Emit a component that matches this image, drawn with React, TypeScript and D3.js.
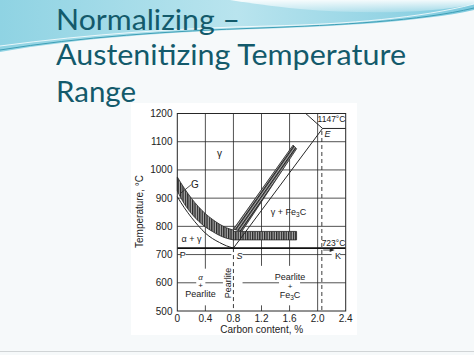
import React from "react";
import * as d3 from "d3";

// ---- data ----
const xTickValues = [0, 0.4, 0.8, 1.2, 1.6, 2.0, 2.4];
const xTickLabels = ["0", "0.4", "0.8", "1.2", "1.6", "2.0", "2.4"];
const yTickValues = [500, 600, 700, 800, 900, 1000, 1100, 1200];
const yTickLabels = ["500", "600", "700", "800", "900", "1000", "1100", "1200"];

// A3 line (G -> S)
const a3Carbon = [0, 0.1, 0.2, 0.3, 0.4, 0.5, 0.6, 0.7, 0.8];
const a3Temp = [905, 866, 832, 802, 776, 757, 743, 731, 723];

// normalizing band, hypoeutectoid
const bandCarbon = [0, 0.1, 0.2, 0.3, 0.4, 0.5, 0.6, 0.7, 0.8];
const bandTop = [975, 935, 900, 870, 845, 825, 808, 795, 787];
const bandBottom = [925, 880, 846, 819, 798, 782, 768, 758, 752];

// normalizing band along Acm (hypereutectoid)
const acmBandCarbon = [0.8, 1.65, 1.7, 0.92];
const acmBandTemp = [790, 1088, 1075, 782];

// normalizing band, horizontal (hypereutectoid)
const flatBandCarbon = [0.8, 1.7];
const flatBandTemp = [752, 782];

// Acm line S -> E, liquidus, eutectic
const acmCarbon = [0.8, 2.07];
const acmTemp = [723, 1147];
const liquidusCarbon = [1.83, 2.07];
const liquidusTemp = [1200, 1147];
const eutecticCarbon = [2.07, 2.4];
const eutecticTemp = [1147, 1147];
const a1Temp = 723;
const eutectoidC = 0.8;
const maxSolubilityC = 2.06;

const W = 474;
const H = 355;

export default function App() {
  const x = d3.scaleLinear().domain([0, 2.4]).range([177.3, 345.7]);
  const y = d3.scaleLinear().domain([500, 1200]).range([311, 113.5]);
  const line = d3
    .line<[number, number]>()
    .x((d) => x(d[0]))
    .y((d) => y(d[1]));
  const curve = d3
    .line<[number, number]>()
    .x((d) => x(d[0]))
    .y((d) => y(d[1]))
    .curve(d3.curveMonotoneX);

  const a3Pts = a3Carbon.map((c, i) => [c, a3Temp[i]] as [number, number]);
  const topPts = bandCarbon.map((c, i) => [c, bandTop[i]] as [number, number]);
  const botPts = bandCarbon.map((c, i) => [c, bandBottom[i]] as [number, number]);
  const botRev = curve(botPts.slice().reverse());
  const hypoPath = curve(topPts) + "L" + botRev!.slice(1) + "Z";

  const acmBandPts = acmBandCarbon.map((c, i) => [c, acmBandTemp[i]] as [number, number]);
  const flatBand = [
    [flatBandCarbon[0], flatBandTemp[0]],
    [flatBandCarbon[1], flatBandTemp[0]],
    [flatBandCarbon[1], flatBandTemp[1]],
    [flatBandCarbon[0], flatBandTemp[1]],
  ] as [number, number][];

  const ink = "#262626";
  const font = "'Liberation Sans', Arial, sans-serif";

  // grid lines in upper region (above A1)
  const upperV = xTickValues.slice(1, -1);
  const upperH = [800, 900, 1000, 1100];
  // broken grid segments below A1 (carbon ranges / temperature ranges)
  const h700Segments = [[0, 0.05], [0.12, 0.77], [0.93, 2.2], [2.32, 2.4]];
  const h600Segments = [[0, 0.27], [0.4, 0.65], [0.93, 1.45], [1.75, 2.4]];
  const lowerVLines = [0.4, 1.2, 1.6];
  const lowerVTop = [723, 723, 723];
  const lowerVBottom = [650, 660, 660];

  return (
    <svg
      width={W}
      height={H}
      viewBox={`0 0 ${W} ${H}`}
      style={{ position: "fixed", left: 0, top: 0 }}
    >
      <defs>
        <linearGradient id="wave" x1="0" y1="0" x2="1" y2="0">
          <stop offset="0" stopColor="#8fd3e3" />
          <stop offset="0.5" stopColor="#b9e4ee" />
          <stop offset="1" stopColor="#7fcbdf" />
        </linearGradient>
        <linearGradient id="wave2" x1="0" y1="0" x2="0" y2="1">
          <stop offset="0" stopColor="#ffffff" stopOpacity="0.9" />
          <stop offset="1" stopColor="#ffffff" stopOpacity="0.2" />
        </linearGradient>
        <pattern id="vhatch" patternUnits="userSpaceOnUse" width="2.4" height="4">
          <rect width="2.4" height="4" fill="#b0b0b0" />
          <rect x="0" width="1.3" height="4" fill="#262626" />
        </pattern>
        <pattern
          id="dhatch"
          patternUnits="userSpaceOnUse"
          width="2.4"
          height="4"
          patternTransform="rotate(35)"
        >
          <rect width="2.4" height="4" fill="#b0b0b0" />
          <rect x="0" width="1.3" height="4" fill="#262626" />
        </pattern>
      </defs>

      {/* slide background */}
      <rect width={W} height={H} fill="#f6f9fa" />
      <path
        d="M0,0 H474 V10 C420,22 340,26 260,29 C170,32 80,38 0,52 Z"
        fill="url(#wave)"
      />
      <path
        d="M230,0 H474 V4 C430,14 360,14 300,9 C270,6 250,3 230,0 Z"
        fill="url(#wave2)"
      />
      <path
        d="M0,50 C80,37 170,31 260,28 C340,25 420,21 474,8"
        fill="none"
        stroke="#3e9fb6"
        strokeWidth={1}
      />
      <path
        d="M0,46 C90,34 180,28 270,26 C350,24 420,18 474,4"
        fill="none"
        stroke="#ffffff"
        strokeWidth={1}
        opacity={0.8}
      />
      <line x1={0} y1={351.5} x2={W} y2={351.5} stroke="#d0d4d6" strokeWidth={1} />

      {/* title */}
      <g fill="#135a6b" fontFamily="Lato, 'Open Sans', sans-serif" fontSize={29}>
        <text x={56} y={29.5} textLength={184} lengthAdjust="spacingAndGlyphs">
          Normalizing –
        </text>
        <text x={56} y={64.5} textLength={350} lengthAdjust="spacingAndGlyphs">
          Austenitizing Temperature
        </text>
        <text x={56} y={101.5} textLength={80} lengthAdjust="spacingAndGlyphs">
          Range
        </text>
      </g>

      {/* chart image background */}
      <rect x={131} y={103} width={226} height={232} fill="#ffffff" />

      {/* grid */}
      <g stroke={ink} strokeWidth={0.8}>
        {upperV.map((v) => (
          <line key={"uv" + v} x1={x(v)} x2={x(v)} y1={y(1200)} y2={y(a1Temp)} />
        ))}
        {upperH.map((t) => (
          <line key={"uh" + t} x1={x(0)} x2={x(2.4)} y1={y(t)} y2={y(t)} />
        ))}
        {h700Segments.map((s, i) => (
          <line key={"h7" + i} x1={x(s[0])} x2={x(s[1])} y1={y(700)} y2={y(700)} />
        ))}
        {h600Segments.map((s, i) => (
          <line key={"h6" + i} x1={x(s[0])} x2={x(s[1])} y1={y(600)} y2={y(600)} />
        ))}
        {lowerVLines.map((v, i) => (
          <g key={"lv" + v}>
            <line x1={x(v)} x2={x(v)} y1={y(lowerVTop[i])} y2={y(lowerVBottom[i])} />
            <line x1={x(v)} x2={x(v)} y1={y(520)} y2={y(500)} />
          </g>
        ))}
        <line x1={x(2.0)} x2={x(2.0)} y1={y(a1Temp)} y2={y(500)} />
      </g>

      {/* dashed verticals */}
      <g stroke={ink} strokeWidth={0.9} strokeDasharray="4,3">
        <line x1={x(eutectoidC)} x2={x(eutectoidC)} y1={y(a1Temp)} y2={y(500)} />
        <line x1={x(maxSolubilityC)} x2={x(maxSolubilityC)} y1={y(1138)} y2={y(500)} />
      </g>

      {/* bands */}
      <path d={hypoPath} fill="url(#vhatch)" stroke={ink} strokeWidth={0.8} />
      <path d={line(flatBand)! + "Z"} fill="url(#vhatch)" stroke={ink} strokeWidth={0.8} />
      <path d={line(acmBandPts)! + "Z"} fill="url(#dhatch)" stroke={ink} strokeWidth={0.8} />

      {/* phase lines */}
      <g fill="none" stroke={ink} strokeWidth={1}>
        <path d={curve(a3Pts)!} />
        <path d={line(acmCarbon.map((c, i) => [c, acmTemp[i]] as [number, number]))!} />
        <path d={line(liquidusCarbon.map((c, i) => [c, liquidusTemp[i]] as [number, number]))!} />
        <path d={line(eutecticCarbon.map((c, i) => [c, eutecticTemp[i]] as [number, number]))!} />
        <line x1={x(0.05)} y1={y(918)} x2={x(0.2)} y2={y(948)} strokeWidth={0.8} />
      </g>
      <line x1={x(0)} x2={x(2.4)} y1={y(a1Temp)} y2={y(a1Temp)} stroke="#111" strokeWidth={1.8} />

      {/* arrow near K */}
      <line x1={x(2.08)} x2={x(2.2)} y1={y(716)} y2={y(716)} stroke={ink} strokeWidth={0.8} />
      <path d={`M${x(2.2) + 3},${y(716)} l-5,-2 l0,4 Z`} fill={ink} />

      {/* frame */}
      <rect
        x={x(0)}
        y={y(1200)}
        width={x(2.4) - x(0)}
        height={y(500) - y(1200)}
        fill="none"
        stroke={ink}
        strokeWidth={1}
      />

      {/* tick labels */}
      <g fontFamily={font} fontSize={10} fill="#222">
        {yTickValues.map((t, i) => (
          <text key={"yt" + t} x={172.5} y={y(t) + 3.5} textAnchor="end">
            {yTickLabels[i]}
          </text>
        ))}
        {xTickValues.map((t, i) => (
          <text key={"xt" + t} x={x(t)} y={322} textAnchor="middle">
            {xTickLabels[i]}
          </text>
        ))}
        <text x={261.7} y={333} textAnchor="middle">
          Carbon content, %
        </text>
        <text transform={`translate(143,211.5) rotate(-90)`} textAnchor="middle">
          Temperature, °C
        </text>
      </g>

      {/* region labels */}
      <g fontFamily={font} fontSize={9} fill="#222">
        <text x={x(0.6)} y={y(1045)} textAnchor="middle" fontSize={10}>γ</text>
        <text x={195} y={187.5} textAnchor="middle" fontSize={10}>G</text>
        <text x={288.5} y={215} textAnchor="middle" fontSize={9}>
          γ + Fe<tspan fontSize={6.5} dy={2}>3</tspan><tspan dy={-2}>C</tspan>
        </text>
        <text x={191.5} y={242} textAnchor="middle" fontSize={9}>α + γ</text>
        <text x={331.5} y={122} textAnchor="middle" fontSize={8.5}>1147°C</text>
        <text x={327.5} y={137} textAnchor="middle" fontStyle="italic" fontSize={9}>E</text>
        <text x={333.5} y={245.5} textAnchor="middle" fontSize={8.5}>723°C</text>
        <text x={182.7} y={258} textAnchor="middle">P</text>
        <text x={239.5} y={258.5} textAnchor="middle" fontStyle="italic">S</text>
        <text x={338} y={258.5} textAnchor="middle">K</text>
        <text x={200.5} y={280} textAnchor="middle" fontStyle="italic" fontSize={8}>α</text>
        <text x={200.5} y={288} textAnchor="middle" fontSize={8}>+</text>
        <text x={200.5} y={297} textAnchor="middle" fontSize={9}>Pearlite</text>
        <text transform="translate(230.5,283) rotate(-90)" textAnchor="middle" fontSize={9}>
          Pearlite
        </text>
        <text x={290} y={279.5} textAnchor="middle" fontSize={9}>Pearlite</text>
        <text x={290} y={288.5} textAnchor="middle" fontSize={8}>+</text>
        <text x={290} y={298} textAnchor="middle" fontSize={9}>
          Fe<tspan fontSize={6.5} dy={2}>3</tspan><tspan dy={-2}>C</tspan>
        </text>
      </g>
    </svg>
  );
}
